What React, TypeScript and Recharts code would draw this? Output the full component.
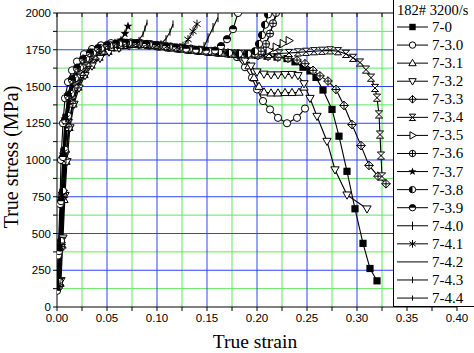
import React from "react";
import { LineChart, Line, XAxis, YAxis, ReferenceLine } from "recharts";

type Pt = [number, number];

// strain, true stress (MPa)
const s70: Pt[] = [[0.001,140],[0.003,420],[0.005,760],[0.007,1060],[0.009,1290],[0.012,1440],[0.016,1550],[0.021,1625],[0.027,1685],[0.034,1728],[0.042,1758],[0.051,1778],[0.060,1790],[0.070,1795],[0.080,1792],[0.090,1786],[0.100,1778],[0.110,1770],[0.120,1762],[0.130,1755],[0.140,1748],[0.150,1741],[0.160,1735],[0.170,1729],[0.180,1723],[0.190,1717],[0.200,1712],[0.210,1706],[0.220,1700],[0.230,1690],[0.238,1668],[0.246,1631],[0.253,1606],[0.259,1562],[0.266,1476],[0.275,1344],[0.282,1162],[0.290,923],[0.298,668],[0.306,433],[0.313,262],[0.320,178]];
const s730: Pt[] = [[0.000,120],[0.001,350],[0.003,700],[0.004,1000],[0.006,1250],[0.008,1420],[0.011,1530],[0.015,1610],[0.020,1670],[0.027,1720],[0.035,1755],[0.044,1780],[0.054,1795],[0.064,1802],[0.074,1800],[0.084,1795],[0.094,1788],[0.104,1780],[0.114,1772],[0.124,1765],[0.134,1758],[0.144,1750],[0.154,1743],[0.164,1735],[0.172,1725],[0.180,1700],[0.188,1631],[0.195,1560],[0.200,1480],[0.206,1401],[0.213,1344],[0.221,1287],[0.230,1250],[0.240,1287],[0.248,1350]];
const s731: Pt[] = [[0.003,160],[0.005,420],[0.007,730],[0.009,990],[0.012,1220],[0.016,1380],[0.021,1495],[0.027,1580],[0.034,1645],[0.042,1698],[0.051,1738],[0.060,1762],[0.069,1778],[0.078,1786],[0.088,1785],[0.098,1778],[0.108,1770],[0.118,1762],[0.128,1754],[0.138,1747],[0.148,1740],[0.158,1733],[0.168,1726],[0.178,1718],[0.186,1700],[0.192,1640],[0.197,1560],[0.202,1500],[0.207,1462],[0.214,1455],[0.221,1455],[0.228,1458],[0.235,1458],[0.242,1460],[0.247,1495]];
const s732: Pt[] = [[0.004,180],[0.006,470],[0.008,760],[0.010,990],[0.013,1220],[0.017,1380],[0.022,1490],[0.028,1575],[0.035,1640],[0.043,1692],[0.052,1735],[0.062,1762],[0.072,1778],[0.082,1784],[0.092,1782],[0.102,1775],[0.112,1768],[0.122,1760],[0.132,1752],[0.142,1745],[0.152,1738],[0.162,1731],[0.172,1724],[0.181,1712],[0.188,1675],[0.194,1640],[0.200,1600],[0.207,1585],[0.214,1580],[0.221,1580],[0.228,1582],[0.235,1583],[0.241,1575],[0.247,1520],[0.253,1420],[0.260,1298],[0.270,1128],[0.278,934],[0.290,763],[0.310,668]];
const s733: Pt[] = [[0.002,150],[0.004,440],[0.006,780],[0.008,1060],[0.010,1280],[0.013,1430],[0.017,1535],[0.022,1610],[0.028,1672],[0.035,1718],[0.043,1750],[0.052,1772],[0.061,1785],[0.071,1791],[0.081,1790],[0.091,1784],[0.101,1776],[0.111,1768],[0.121,1760],[0.131,1752],[0.141,1745],[0.151,1739],[0.161,1733],[0.171,1727],[0.181,1721],[0.191,1716],[0.201,1711],[0.211,1706],[0.221,1700],[0.231,1692],[0.240,1680],[0.248,1655],[0.256,1610],[0.263,1572],[0.271,1537],[0.279,1480],[0.287,1371],[0.295,1241],[0.304,1098],[0.312,963],[0.321,890],[0.329,838]];
const s734: Pt[] = [[0.003,170],[0.005,450],[0.007,770],[0.009,1030],[0.012,1250],[0.016,1410],[0.020,1515],[0.026,1600],[0.032,1662],[0.039,1710],[0.047,1745],[0.055,1770],[0.064,1784],[0.073,1790],[0.082,1788],[0.092,1782],[0.102,1774],[0.112,1766],[0.122,1758],[0.132,1750],[0.142,1743],[0.152,1736],[0.162,1730],[0.172,1725],[0.182,1721],[0.192,1719],[0.202,1719],[0.212,1721],[0.222,1724],[0.232,1728],[0.241,1732],[0.249,1736],[0.257,1740],[0.265,1743],[0.273,1746],[0.281,1740],[0.289,1722],[0.296,1695],[0.303,1663],[0.309,1615],[0.314,1560],[0.318,1490],[0.320,1424],[0.322,1310],[0.323,1173],[0.324,1030],[0.325,888]];
const s735: Pt[] = [[0.001,130],[0.003,390],[0.005,740],[0.007,1040],[0.009,1270],[0.012,1430],[0.016,1540],[0.021,1618],[0.027,1680],[0.034,1725],[0.042,1756],[0.051,1777],[0.060,1789],[0.070,1794],[0.080,1792],[0.090,1786],[0.100,1779],[0.110,1771],[0.120,1763],[0.130,1755],[0.140,1748],[0.150,1741],[0.160,1735],[0.170,1729],[0.180,1724],[0.190,1720],[0.198,1720],[0.205,1728],[0.212,1745],[0.219,1768],[0.226,1792],[0.232,1812]];
const s736: Pt[] = [[0.002,140],[0.004,410],[0.006,770],[0.008,1060],[0.010,1290],[0.013,1445],[0.017,1550],[0.022,1628],[0.028,1688],[0.035,1730],[0.043,1760],[0.052,1780],[0.061,1791],[0.071,1796],[0.081,1793],[0.091,1787],[0.101,1779],[0.111,1771],[0.121,1763],[0.131,1756],[0.141,1749],[0.151,1742],[0.161,1736],[0.171,1730],[0.181,1725],[0.190,1722],[0.198,1722],[0.204,1740],[0.209,1790],[0.213,1860],[0.216,1930],[0.219,2000]];
const s737: Pt[] = [[0.001,160],[0.002,420],[0.004,740],[0.006,1040],[0.008,1280],[0.011,1445],[0.015,1555],[0.020,1632],[0.026,1692],[0.033,1735],[0.041,1765],[0.050,1785],[0.058,1796],[0.064,1815],[0.068,1860],[0.071,1910]];
const s738: Pt[] = [[0.002,170],[0.004,450],[0.006,790],[0.008,1070],[0.011,1300],[0.014,1450],[0.018,1555],[0.023,1630],[0.029,1688],[0.036,1730],[0.044,1760],[0.053,1779],[0.062,1790],[0.072,1794],[0.082,1791],[0.092,1785],[0.102,1777],[0.112,1769],[0.122,1761],[0.132,1753],[0.142,1746],[0.152,1740],[0.162,1734],[0.172,1728],[0.182,1723],[0.191,1722],[0.198,1740],[0.202,1790],[0.205,1850],[0.208,1920],[0.211,1990]];
const s739: Pt[] = [[0.000,110],[0.002,380],[0.004,720],[0.006,1020],[0.008,1270],[0.011,1435],[0.015,1545],[0.020,1622],[0.026,1683],[0.033,1727],[0.041,1758],[0.050,1779],[0.059,1791],[0.069,1797],[0.079,1795],[0.089,1789],[0.099,1781],[0.109,1773],[0.119,1765],[0.129,1757],[0.139,1750],[0.149,1744],[0.158,1745],[0.164,1775],[0.170,1822],[0.176,1890],[0.181,2000]];
const s740: Pt[] = [[0.003,150],[0.005,410],[0.007,740],[0.009,1010],[0.012,1240],[0.016,1400],[0.021,1510],[0.027,1595],[0.033,1658],[0.040,1706],[0.048,1742],[0.057,1768],[0.066,1783],[0.075,1790],[0.084,1788],[0.093,1783],[0.103,1775],[0.113,1767],[0.123,1759],[0.133,1752],[0.142,1748],[0.147,1770],[0.151,1830],[0.156,1900],[0.161,1970]];
const s741: Pt[] = [[0.001,150],[0.003,410],[0.005,760],[0.007,1055],[0.009,1285],[0.012,1440],[0.016,1548],[0.021,1625],[0.027,1686],[0.034,1729],[0.042,1759],[0.051,1779],[0.060,1791],[0.070,1796],[0.080,1794],[0.090,1788],[0.100,1780],[0.110,1772],[0.120,1764],[0.126,1775],[0.131,1820],[0.136,1875],[0.140,1925]];
const s742: Pt[] = [[0.002,160],[0.004,430],[0.006,780],[0.008,1065],[0.011,1295],[0.014,1445],[0.018,1550],[0.023,1627],[0.029,1686],[0.036,1729],[0.044,1759],[0.053,1779],[0.063,1790],[0.073,1794],[0.083,1791],[0.093,1785],[0.103,1777],[0.113,1769],[0.123,1761],[0.133,1754],[0.143,1747],[0.153,1741],[0.163,1735],[0.173,1729],[0.183,1724],[0.193,1721],[0.203,1735],[0.209,1790],[0.214,1880],[0.218,1960],[0.221,2020]];
const s743: Pt[] = [[0.001,140],[0.003,400],[0.005,750],[0.007,1045],[0.009,1280],[0.012,1438],[0.016,1546],[0.021,1624],[0.027,1685],[0.034,1728],[0.042,1758],[0.051,1778],[0.060,1790],[0.070,1795],[0.080,1793],[0.090,1787],[0.098,1782],[0.104,1790],[0.109,1825],[0.113,1870],[0.116,1925]];
const s744: Pt[] = [[0.002,130],[0.004,400],[0.006,750],[0.008,1040],[0.010,1275],[0.013,1435],[0.017,1543],[0.022,1620],[0.028,1682],[0.035,1726],[0.043,1757],[0.052,1778],[0.061,1790],[0.070,1796],[0.077,1800],[0.082,1818],[0.086,1855],[0.088,1895],[0.090,1935]];

const legendTitle = "182# 3200/s";
const xTicks = [0, 0.025, 0.05, 0.075, 0.1, 0.125, 0.15, 0.175, 0.2, 0.225, 0.25, 0.275, 0.3, 0.325, 0.35, 0.375, 0.4];
const yTicks = [0, 125, 250, 375, 500, 625, 750, 875, 1000, 1125, 1250, 1375, 1500, 1625, 1750, 1875, 2000];
const xMajor = [0.05, 0.1, 0.15, 0.2, 0.25, 0.3, 0.35];
const xMinor = [0.025, 0.075, 0.125, 0.175, 0.225, 0.275, 0.325, 0.375];
const yMajor = [250, 500, 750, 1000, 1250, 1500, 1750];
const yMinor = [125, 375, 625, 875, 1125, 1375, 1625, 1875];

const series = [
  { name: "7-0", data: s70, marker: "square" },
  { name: "7-3.0", data: s730, marker: "circle" },
  { name: "7-3.1", data: s731, marker: "triUp" },
  { name: "7-3.2", data: s732, marker: "triDown" },
  { name: "7-3.3", data: s733, marker: "diamondCross" },
  { name: "7-3.4", data: s734, marker: "hourglass" },
  { name: "7-3.5", data: s735, marker: "triRight" },
  { name: "7-3.6", data: s736, marker: "circlePlus" },
  { name: "7-3.7", data: s737, marker: "star" },
  { name: "7-3.8", data: s738, marker: "halfLeft" },
  { name: "7-3.9", data: s739, marker: "halfTop" },
  { name: "7-4.0", data: s740, marker: "vbar" },
  { name: "7-4.1", data: s741, marker: "asterisk" },
  { name: "7-4.2", data: s742, marker: "none" },
  { name: "7-4.3", data: s743, marker: "vtick" },
  { name: "7-4.4", data: s744, marker: "vtickSmall" },
];

const BLUE = "#2f45f2";
const GREEN = "#5ee65e";

function Marker({ kind, x, y, r }: { kind: string; x: number; y: number; r: number }) {
  const ln = { stroke: "#000", strokeWidth: 1 };
  switch (kind) {
    case "square":
      return <rect x={x - r} y={y - r} width={2 * r} height={2 * r} fill="#000" />;
    case "circle":
      return <circle cx={x} cy={y} r={r} fill="#fff" {...ln} />;
    case "triUp":
      return <polygon points={`${x},${y - r * 1.2} ${x + r * 1.15},${y + r * 0.8} ${x - r * 1.15},${y + r * 0.8}`} fill="#fff" {...ln} />;
    case "triDown":
      return <polygon points={`${x},${y + r * 1.2} ${x + r * 1.15},${y - r * 0.8} ${x - r * 1.15},${y - r * 0.8}`} fill="#fff" {...ln} />;
    case "triRight":
      return <polygon points={`${x + r * 1.2},${y} ${x - r * 0.8},${y - r * 1.15} ${x - r * 0.8},${y + r * 1.15}`} fill="#fff" {...ln} />;
    case "diamondCross":
      return (
        <g>
          <polygon points={`${x},${y - r * 1.2} ${x + r * 1.2},${y} ${x},${y + r * 1.2} ${x - r * 1.2},${y}`} fill="#fff" {...ln} />
          <line x1={x} y1={y - r * 1.2} x2={x} y2={y + r * 1.2} {...ln} />
          <line x1={x - r * 1.2} y1={y} x2={x + r * 1.2} y2={y} {...ln} />
        </g>
      );
    case "hourglass":
      return <path d={`M${x - r},${y - r}H${x + r}L${x - r},${y + r}H${x + r}Z`} fill="#fff" {...ln} />;
    case "circlePlus":
      return (
        <g>
          <circle cx={x} cy={y} r={r} fill="#fff" {...ln} />
          <line x1={x} y1={y - r} x2={x} y2={y + r} {...ln} />
          <line x1={x - r} y1={y} x2={x + r} y2={y} {...ln} />
        </g>
      );
    case "star": {
      const pts: string[] = [];
      for (let i = 0; i < 10; i++) {
        const a = -Math.PI / 2 + (i * Math.PI) / 5;
        const rr = i % 2 === 0 ? r * 1.3 : r * 0.55;
        pts.push(`${x + rr * Math.cos(a)},${y + rr * Math.sin(a)}`);
      }
      return <polygon points={pts.join(" ")} fill="#000" />;
    }
    case "halfLeft":
      return (
        <g>
          <circle cx={x} cy={y} r={r} fill="#fff" {...ln} />
          <path d={`M${x},${y - r}A${r},${r} 0 0 0 ${x},${y + r}Z`} fill="#000" />
        </g>
      );
    case "halfTop":
      return (
        <g>
          <circle cx={x} cy={y} r={r} fill="#fff" {...ln} />
          <path d={`M${x - r},${y}A${r},${r} 0 0 1 ${x + r},${y}Z`} fill="#000" />
        </g>
      );
    case "vbar":
      return <line x1={x} y1={y - r * 1.3} x2={x} y2={y + r * 1.3} {...ln} />;
    case "asterisk":
      return (
        <g>
          <line x1={x} y1={y - r * 1.2} x2={x} y2={y + r * 1.2} {...ln} />
          <line x1={x - r} y1={y - r * 0.7} x2={x + r} y2={y + r * 0.7} {...ln} />
          <line x1={x - r} y1={y + r * 0.7} x2={x + r} y2={y - r * 0.7} {...ln} />
        </g>
      );
    case "vtick":
      return <line x1={x} y1={y - r} x2={x} y2={y + r} {...ln} />;
    case "vtickSmall":
      return <line x1={x} y1={y - r * 0.8} x2={x} y2={y + r * 0.8} {...ln} />;
    default:
      return null;
  }
}

const fmtX = (v: number) => (Math.round(v * 1000) % 50 === 0 ? v.toFixed(2) : "");
const fmtY = (v: number) => (v % 250 === 0 ? String(v) : "");

const tickStyle = { fill: "#000", fontSize: 11.5, fontFamily: "'Liberation Sans', Arial, sans-serif" };
const serif = "'Liberation Serif', 'Times New Roman', serif";

export default function App() {
  return (
    <div style={{ position: "absolute", left: 0, top: 0, width: 474, height: 353, background: "#fff", overflow: "hidden" }}>
      <LineChart width={474} height={353} margin={{ top: 13, right: 17, bottom: 16, left: 0 }}>
        {xMinor.map((v) => (
          <ReferenceLine key={`xm${v}`} x={v} stroke={GREEN} strokeWidth={1} zIndex={-50} />
        ))}
        {yMinor.map((v) => (
          <ReferenceLine key={`ym${v}`} y={v} stroke={GREEN} strokeWidth={1} zIndex={-50} />
        ))}
        {xMajor.map((v) => (
          <ReferenceLine key={`xM${v}`} x={v} stroke={BLUE} strokeWidth={1} zIndex={-40} />
        ))}
        {yMajor.map((v) => (
          <ReferenceLine key={`yM${v}`} y={v} stroke={BLUE} strokeWidth={1} zIndex={-40} />
        ))}
        <XAxis
          type="number"
          dataKey="x"
          domain={[0, 0.4]}
          ticks={xTicks}
          interval={0}
          tickFormatter={fmtX}
          allowDataOverflow
          height={30}
          tickSize={4}
          tickMargin={3}
          stroke="#000"
          tick={tickStyle}
        />
        <XAxis
          xAxisId="top"
          orientation="top"
          type="number"
          dataKey="x"
          domain={[0, 0.4]}
          ticks={xTicks}
          interval={0}
          tickFormatter={() => ""}
          allowDataOverflow
          height={1}
          mirror
          tickSize={4}
          stroke="#000"
        />
        <YAxis
          type="number"
          domain={[0, 2000]}
          ticks={yTicks}
          interval={0}
          tickFormatter={fmtY}
          allowDataOverflow
          width={57}
          tickSize={4}
          tickMargin={2}
          stroke="#000"
          tick={tickStyle}
        />
        {series.map((s) => (
          <Line
            key={s.name}
            name={s.name}
            data={s.data.map(([x, y]) => ({ x, y }))}
            dataKey="y"
            type="linear"
            stroke="#000"
            strokeWidth={1.1}
            isAnimationActive={false}
            activeDot={false}
            dot={(p: any) =>
              p.cx == null || p.cy == null ? (
                <g key={`${s.name}-${p.index}`} />
              ) : (
                <g key={`${s.name}-${p.index}`}>
                  <Marker kind={s.marker} x={p.cx} y={p.cy} r={3.6} />
                </g>
              )
            }
          />
        ))}
      </LineChart>

      <div
        style={{
          position: "absolute",
          left: 11,
          top: 157,
          transform: "translate(-50%, -50%) rotate(-90deg)",
          whiteSpace: "nowrap",
          fontFamily: serif,
          fontSize: 20,
          lineHeight: 1,
        }}
      >
        True stress (MPa)
      </div>
      <div
        style={{
          position: "absolute",
          left: 255,
          top: 342,
          transform: "translate(-50%, -50%)",
          whiteSpace: "nowrap",
          fontFamily: serif,
          fontSize: 19.5,
          lineHeight: 1,
        }}
      >
        True strain
      </div>

      <div
        style={{
          position: "absolute",
          left: 393,
          top: 0,
          width: 81,
          height: 306,
          background: "#fff",
          borderLeft: "1px solid #000",
          borderBottom: "1px solid #000",
        }}
      >
        <svg width={81} height={306} style={{ display: "block" }}>
          <text x={3} y={10} dominantBaseline="central" fontFamily={serif} fontSize={14.5} fill="#000">
            {legendTitle}
          </text>
          {series.map((s, i) => {
            const y = 27 + i * 18.07;
            return (
              <g key={s.name}>
                <line x1={3} y1={y} x2={34} y2={y} stroke="#000" strokeWidth={1} />
                <Marker kind={s.marker} x={18.5} y={y} r={3.2} />
                <text x={38} y={y} dominantBaseline="central" fontFamily={serif} fontSize={15} fill="#000">
                  {s.name}
                </text>
              </g>
            );
          })}
        </svg>
      </div>
    </div>
  );
}
